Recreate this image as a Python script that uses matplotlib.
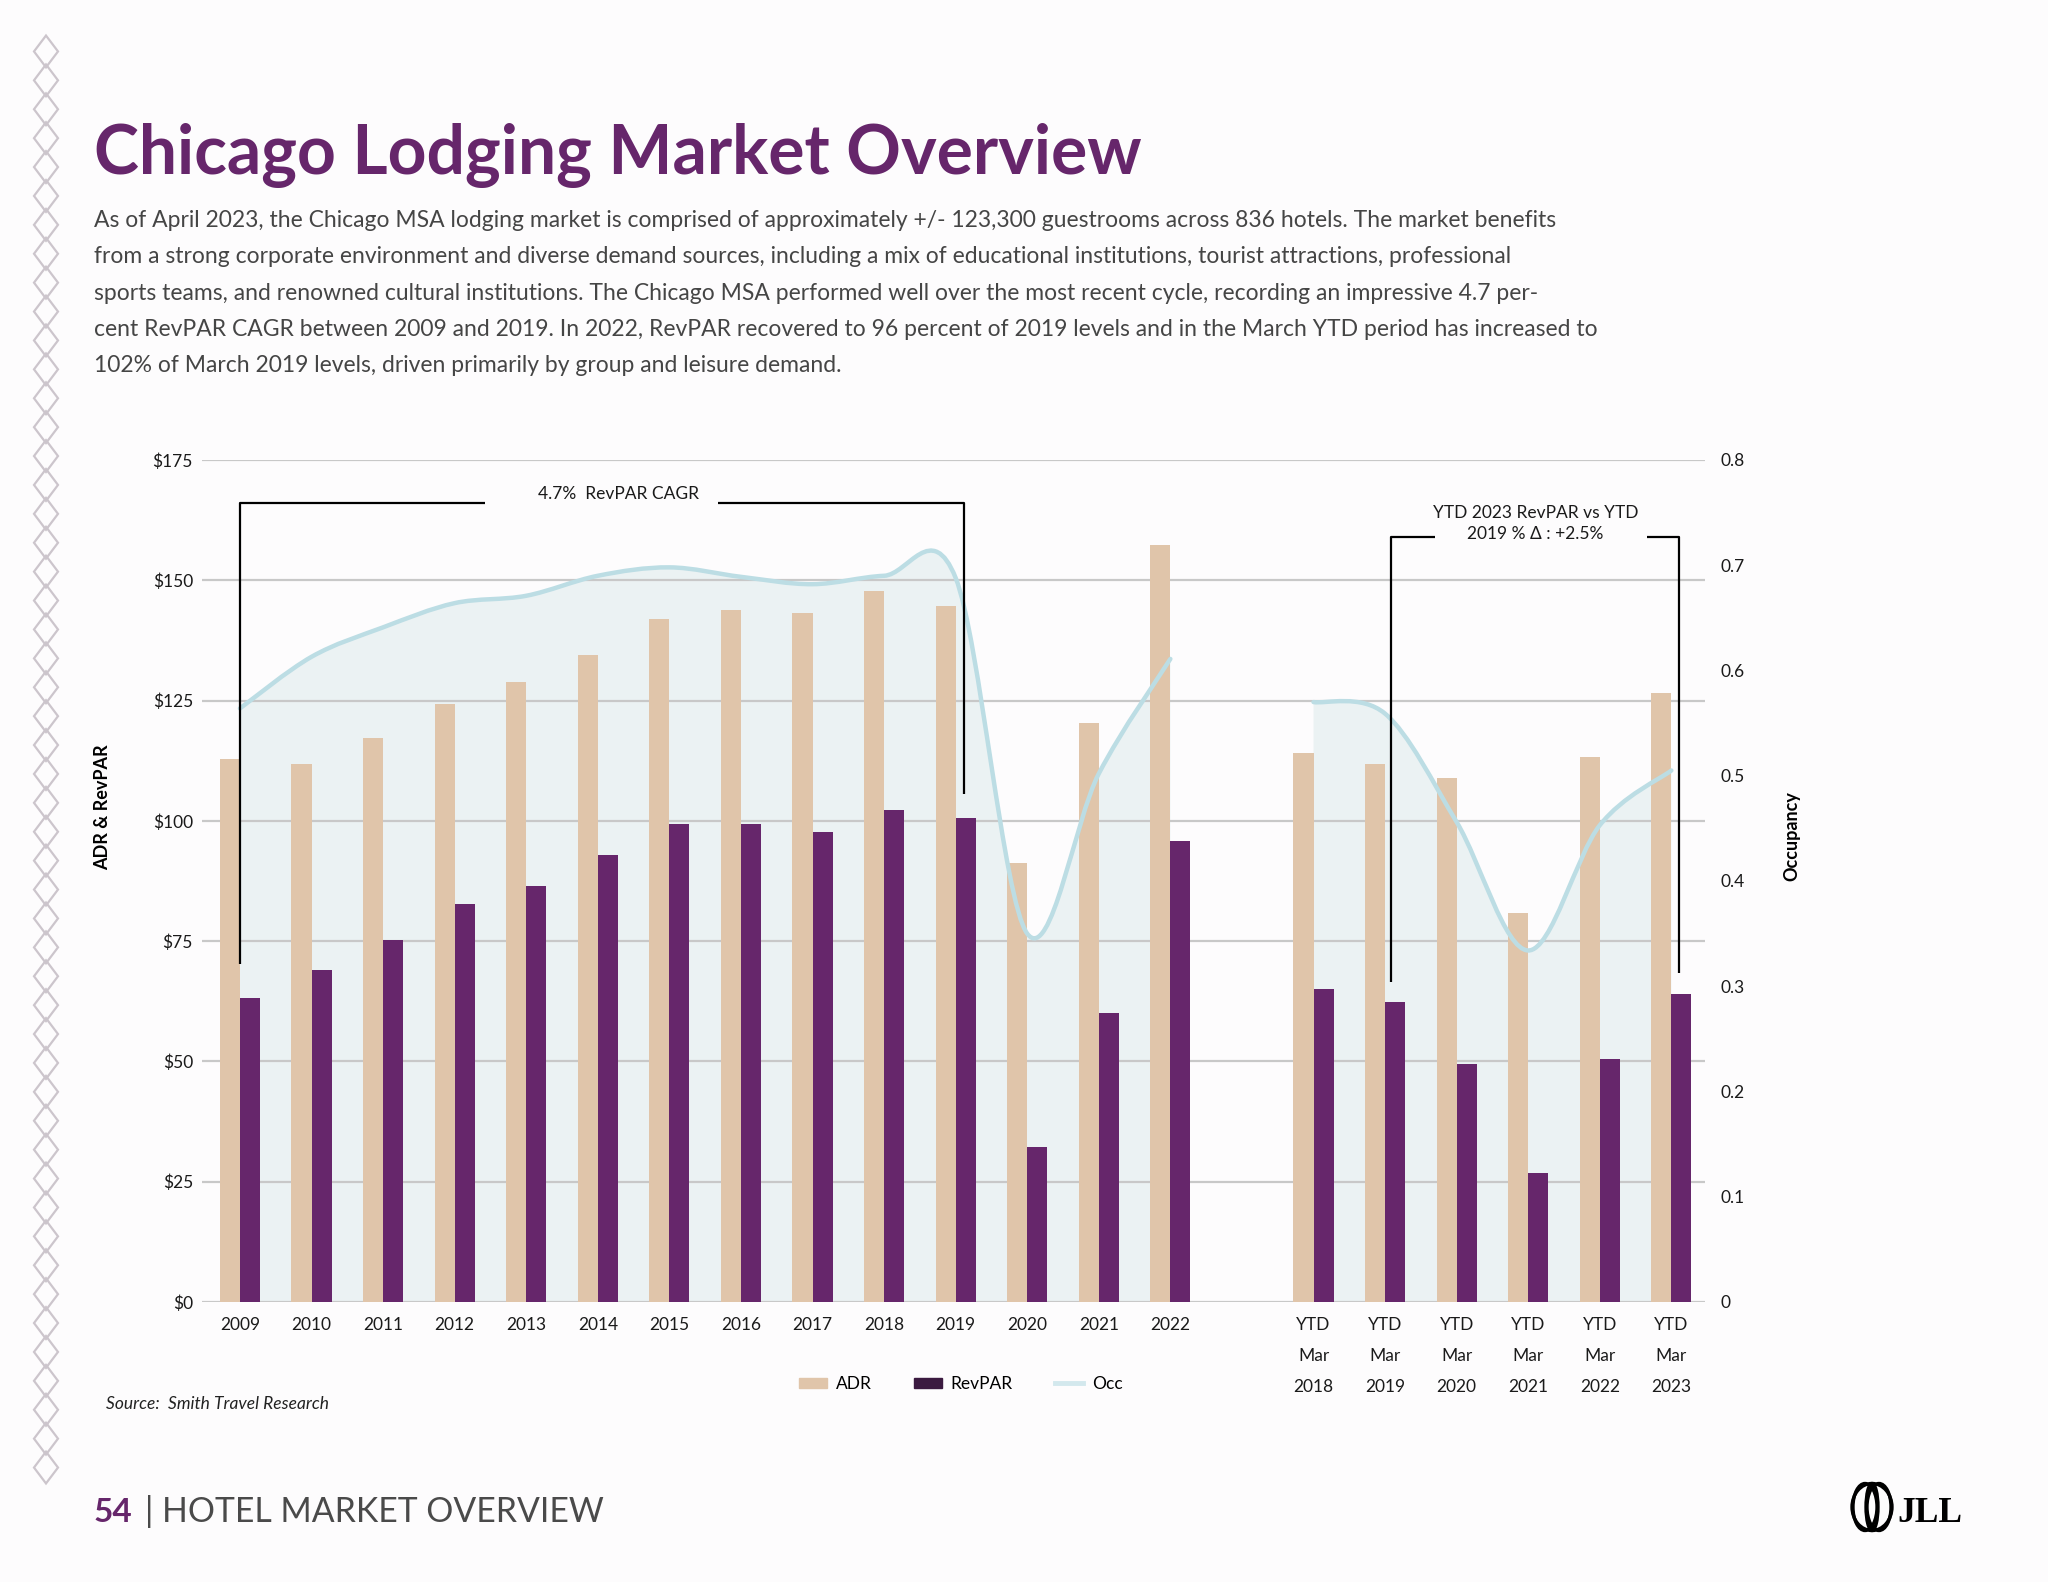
import matplotlib
matplotlib.use("Agg")
import matplotlib.pyplot as plt
import matplotlib.patches as mpatches
import matplotlib.transforms as mtransforms
from matplotlib.path import Path
from matplotlib.lines import Line2D
import numpy as np

# ---- data ----
periods = ['2009', '2010', '2011', '2012', '2013', '2014', '2015', '2016', '2017',
           '2018', '2019', '2020', '2021', '2022',
           'YTD\nMar\n2018', 'YTD\nMar\n2019', 'YTD\nMar\n2020',
           'YTD\nMar\n2021', 'YTD\nMar\n2022', 'YTD\nMar\n2023']
adr = [112.8, 111.9, 117.2, 124.2, 128.9, 134.4, 142.0, 143.8, 143.2, 147.8,
       144.7, 91.2, 120.4, 157.3,
       114.0, 111.8, 109.0, 80.8, 113.3, 126.5]
revpar = [63.2, 69.0, 75.2, 82.7, 86.5, 93.0, 99.4, 99.4, 97.6, 102.3,
          100.5, 32.3, 60.0, 95.9,
          65.1, 62.4, 49.4, 26.9, 50.5, 64.0]
occ = [0.564, 0.613, 0.641, 0.664, 0.671, 0.690, 0.698, 0.689, 0.682, 0.690,
       0.688, 0.350, 0.502, 0.611,
       0.570, 0.559, 0.456, 0.334, 0.453, 0.505]
n_annual = 14

left_ticks = [0, 25, 50, 75, 100, 125, 150, 175]
right_ticks = [0, 0.1, 0.2, 0.3, 0.4, 0.5, 0.6, 0.7, 0.8]

paragraph = [
    "As of April 2023, the Chicago MSA lodging market is comprised of approximately +/- 123,300 guestrooms across 836 hotels. The market benefits",
    "from a strong corporate environment and diverse demand sources, including a mix of educational institutions, tourist attractions, professional",
    "sports teams, and renowned cultural institutions. The Chicago MSA performed well over the most recent cycle, recording an impressive 4.7 per-",
    "cent RevPAR CAGR between 2009 and 2019. In 2022, RevPAR recovered to 96 percent of 2019 levels and in the March YTD period has increased to",
    "102% of March 2019 levels, driven primarily by group and leisure demand.",
]

PURPLE = '#66266B'
TAN = '#E0C5AA'
OCC_LINE = '#BCDDE4'
OCC_FILL = '#EBF2F3'
GRID = '#C8C8C8'
FONT = 'Lato'

plt.rcParams['font.family'] = [FONT, 'DejaVu Sans']

W, H = 2048, 1582
fig = plt.figure(figsize=(W / 100, H / 100), dpi=100, facecolor='#FDFCFD')

# page decoration layer in pixel coordinates
deco = fig.add_axes([0, 0, 1, 1], zorder=-1)
deco.set_xlim(0, W)
deco.set_ylim(H, 0)
deco.axis('off')

# diamond chain on the left edge
n_dia = 50
top, bot = 37, 1482
step = (bot - top) / n_dia
for k in range(n_dia):
    cy = top + step * (k + 0.5)
    hh = step * 0.55
    deco.add_patch(mpatches.Polygon([(46, cy - hh), (58, cy), (46, cy + hh), (34, cy)],
                                    closed=True, fill=False, ec='#CCC5CC', lw=1.6))

deco.text(94, 174, "Chicago Lodging Market Overview", fontsize=48.8, fontweight='bold',
          color=PURPLE, va='baseline', ha='left')
for k, line in enumerate(paragraph):
    deco.text(94, 227 + 36.3 * k, line, fontsize=16.5, fontweight='normal',
              color='#454545', va='baseline', ha='left')

deco.text(106, 1404, "Source:  Smith Travel Research", fontsize=12.5, style='italic',
          color='#222222', va='center', ha='left')
deco.text(94, 1522, "54", fontsize=24, fontweight='bold', color=PURPLE,
          va='baseline', ha='left')
deco.text(145, 1522, "| HOTEL MARKET OVERVIEW", fontsize=24.3, fontweight='normal',
          color='#4A4A4A', va='baseline', ha='left')

# JLL logo
for dx, w in [(0, 40), (-7, 24), (7, 24), (0, 12)]:
    deco.add_patch(mpatches.Ellipse((1872 + dx, 1507), w, 47, fill=False,
                                    ec='black', lw=2.4))
deco.text(1897, 1522, "JLL", fontsize=25.5, fontweight='bold', family='Liberation Serif',
          color='black', va='baseline', ha='left')

# ---- chart ----
ax = fig.add_axes([202 / W, 1 - 1302 / H, (1705 - 202) / W, (1302 - 460) / H])
ax.set_facecolor('none')
ax2 = ax.twinx()

xpos = np.array(list(range(n_annual)) + list(range(n_annual + 1, len(periods) + 1)), float)
bw = 0.28
ax.bar(xpos - bw / 2, adr, bw, color=TAN, zorder=2)
ax.bar(xpos + bw / 2, revpar, bw, color=PURPLE, zorder=2)

for t in left_ticks:
    ax.axhline(t, color=GRID, lw=1.6, zorder=1)

blend = mtransforms.blended_transform_factory(ax.transData, ax2.transData)


def smooth(xs, ys):
    pts = np.column_stack([xs, ys])
    verts, codes = [pts[0]], [Path.MOVETO]
    n = len(pts)
    for i in range(n - 1):
        p0 = pts[i - 1] if i > 0 else pts[i]
        p1, p2 = pts[i], pts[i + 1]
        p3 = pts[i + 2] if i + 2 < n else pts[i + 1]
        verts += [p1 + (p2 - p0) / 6, p2 - (p3 - p1) / 6, p2]
        codes += [Path.CURVE4] * 3
    return verts, codes


occ = np.array(occ)
for sl in (slice(0, n_annual), slice(n_annual, len(periods))):
    v, c = smooth(xpos[sl], occ[sl])
    fv = v + [(xpos[sl][-1], 0), (xpos[sl][0], 0), (xpos[sl][0], 0)]
    fc = c + [Path.LINETO, Path.LINETO, Path.CLOSEPOLY]
    ax.add_patch(mpatches.PathPatch(Path(fv, fc), transform=blend, fc=OCC_FILL,
                                    ec='none', zorder=0.5))
    ax.add_patch(mpatches.PathPatch(Path(v, c), transform=blend, fill=False,
                                    ec=OCC_LINE, lw=3.2, zorder=3, capstyle='round'))

ax.set_xlim(-0.53, 20.47)
ax.set_ylim(0, 175)
ax2.set_ylim(0, 0.8)

ax.set_xticks(xpos)
ax.set_xticklabels(periods, fontsize=12.5, linespacing=2.17, color='#1A1A1A')
ax.set_yticks(left_ticks)
ax.set_yticklabels([f"${t}" for t in left_ticks], fontsize=12.5, color='#1A1A1A')
ax.tick_params(axis='x', length=0, pad=10.5)
ax.tick_params(axis='y', length=0, pad=6.5)
ax2.set_yticks(right_ticks)
ax2.set_yticklabels(["0"] + [f"{t:.1f}" for t in right_ticks[1:]], fontsize=12.5,
                    color='#1A1A1A')
ax2.tick_params(axis='y', length=0, pad=11.5)
for a in (ax, ax2):
    for s in a.spines.values():
        s.set_visible(False)

ax.set_ylabel("ADR & RevPAR", fontsize=13, fontweight='bold')
ax.yaxis.set_label_coords(-0.0605, 0.588)
ax2.set_ylabel("Occupancy", fontsize=13, fontweight='bold')
ax2.yaxis.set_label_coords(1.052, 0.553)

# CAGR bracket
kw = dict(color='black', lw=1.6, zorder=4, solid_capstyle='butt')
ax.plot([0, 0, 3.43], [70.3, 166.1, 166.1], **kw)
ax.plot([6.68, 10.11, 10.11], [166.1, 166.1, 105.5], **kw)
ax.text(5.29, 167.9, "4.7%  RevPAR CAGR", fontsize=12.5, ha='center', va='center',
        color='#1A1A1A')
# YTD bracket
ax.plot([16.08, 16.08, 16.70], [66.5, 158.9, 158.9], **kw)
ax.plot([19.66, 20.10, 20.10], [158.9, 158.9, 68.4], **kw)
ax.text(18.1, 161.8, "YTD 2023 RevPAR vs YTD\n2019 % \u0394 : +2.5%", fontsize=12.5,
        ha='center', va='center', linespacing=1.45, color='#1A1A1A')

handles = [mpatches.Patch(color=TAN), mpatches.Patch(color='#3B1A40'),
           Line2D([], [], color='#D3E8ED', lw=3.5)]
fig.legend(handles, ['ADR', 'RevPAR', 'Occ'], ncol=3, loc='center',
           bbox_to_anchor=(961 / W, 1 - 1384 / H), frameon=False, fontsize=12.5,
           handlelength=1.6, handleheight=0.5, handletextpad=0.5, columnspacing=2.45)

fig.savefig("out.png", dpi=100, facecolor=fig.get_facecolor())
